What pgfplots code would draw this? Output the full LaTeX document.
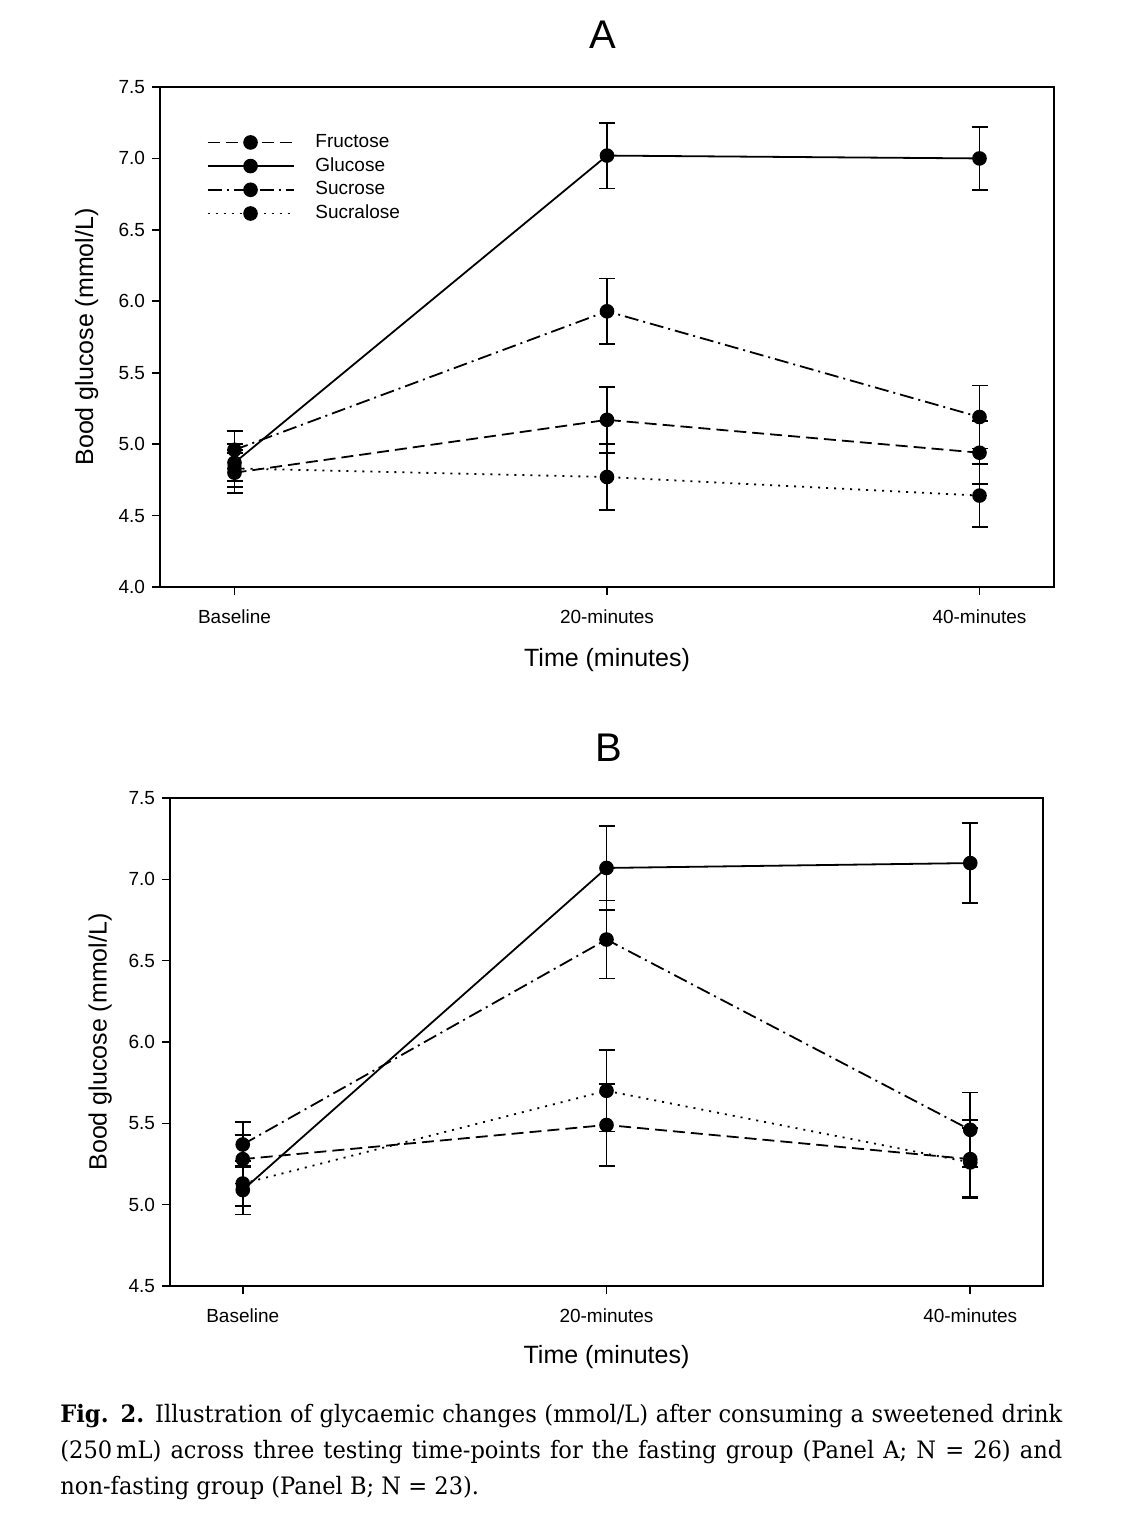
\documentclass[border=0pt]{standalone}
\usepackage{pgfplots}
\pgfplotsset{compat=1.18}
\usepackage{fontspec}
\setmainfont{Liberation Sans}
\newfontfamily\capfont[FakeStretch=0.94]{DejaVu Serif}

\pgfplotsset{
  glyc/.style={
    scale only axis,
    xmin=-0.2, xmax=2.2,
    xtick={0,1,2},
    xticklabels={Baseline,20-minutes,40-minutes},
    tick align=outside,
    xtick pos=bottom, ytick pos=left,
    major tick length=4pt,
    every tick/.style={black, line width=0.8pt},
    axis line style={line width=0.8pt},
    /pgf/number format/assume math mode=true,
    yticklabel style={/pgf/number format/fixed, /pgf/number format/fixed zerofill, /pgf/number format/precision=1},
    xticklabel style={yshift=-4pt},
    tick label style={font=\fontsize{9.5}{11}\selectfont},
    label style={font=\fontsize{12.5}{14}\selectfont},
    xlabel={Time (minutes)},
    ylabel={Bood glucose (mmol/L)},
    every axis plot/.append style={black, line width=0.9pt, mark=*, mark size=3.2pt, mark options={solid, fill=black}},
    error bars/y dir=both,
    error bars/y explicit,
    error bars/error bar style={line width=0.9pt, solid},
    error bars/error mark options={line width=0.9pt, mark size=4pt, solid, rotate=90},
  },
  fru/.style={dash pattern=on 6pt off 3pt},
  glu/.style={solid},
  suc/.style={dash pattern=on 7pt off 2.5pt on 1pt off 2.5pt},
  scl/.style={dash pattern=on 1pt off 3pt},
}

\begin{document}
\begin{tikzpicture}
\path (0,0) rectangle (567pt,-760pt);

% Panel A: fasting group
\begin{axis}[glyc,
  at={(80pt,-293.5pt)}, anchor=south west,
  width=447pt, height=250pt,
  ymin=4.0, ymax=7.5, ytick={4.0,4.5,...,7.5},
  x label style={at={(axis description cs:0.5,-0.146)}, anchor=center},
  y label style={at={(axis description cs:-0.082,0.5)}, anchor=center},
  legend style={draw=none, fill=none, at={(0.045,0.922)}, anchor=north west,
    font=\fontsize{9.5}{11}\selectfont, row sep=-0.4pt,
    /tikz/every odd column/.append style={column sep=8.5pt}},
  legend cell align=left,
  legend image code/.code={\draw[mark repeat=2, mark phase=2, #1] plot coordinates {(0pt,0pt) (21.5pt,0pt) (43pt,0pt)};},
]
\addplot[fru] table[x=t, y=g, y error=e] {
t g e
0 4.80 0.14
1 5.17 0.23
2 4.94 0.22
};
\addlegendentry{Fructose}
\addplot[glu] table[x=t, y=g, y error=e] {
t g e
0 4.87 0.13
1 7.02 0.23
2 7.00 0.22
};
\addlegendentry{Glucose}
\addplot[suc] table[x=t, y=g, y error=e] {
t g e
0 4.96 0.13
1 5.93 0.23
2 5.19 0.22
};
\addlegendentry{Sucrose}
\addplot[scl] table[x=t, y=g, y error=e] {
t g e
0 4.83 0.13
1 4.77 0.23
2 4.64 0.22
};
\addlegendentry{Sucralose}
\end{axis}

% Panel B: non-fasting group
\begin{axis}[glyc,
  at={(85pt,-643pt)}, anchor=south west,
  width=436.5pt, height=244pt,
  ymin=4.5, ymax=7.5, ytick={4.5,5.0,...,7.5},
  x label style={at={(axis description cs:0.5,-0.1455)}, anchor=center},
  y label style={at={(axis description cs:-0.080,0.5)}, anchor=center},
]
\addplot[fru] table[x=t, y=g, y error=e] {
t g e
0 5.28 0.15
1 5.49 0.25
2 5.28 0.24
};
\addplot[glu] table[x=t, y=g, y error=e] {
t g e
0 5.09 0.15
1 7.07 0.26
2 7.10 0.245
};
\addplot[suc] table[x=t, y=g, y error=e] {
t g e
0 5.37 0.14
1 6.63 0.24
2 5.46 0.23
};
\addplot[scl] table[x=t, y=g, y error=e] {
t g e
0 5.13 0.14
1 5.70 0.25
2 5.26 0.21
};
\end{axis}

\node[font=\fontsize{20}{22}\selectfont] at (301.5pt,-17.5pt) {A};
\node[font=\fontsize{20}{22}\selectfont] at (304.5pt,-374pt) {B};

\node[anchor=north west, inner sep=0pt, text width=501pt, align=justify,
  font=\capfont\fontsize{12}{18}\selectfont] at (30pt,-702pt)
  {\textbf{Fig. 2.} Illustration of glycaemic changes (mmol/L) after consuming a sweetened drink\linebreak
   (250\,mL) across three testing time-points for the fasting group (Panel A; N = 26) and\linebreak
   non-fasting group (Panel B; N = 23).};
\end{tikzpicture}
\end{document}
